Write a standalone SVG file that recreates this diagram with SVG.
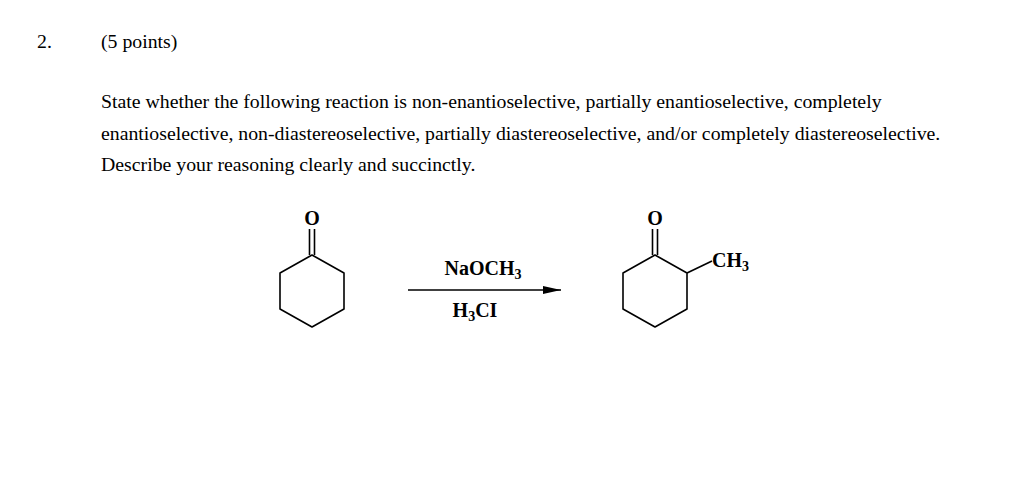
<svg xmlns="http://www.w3.org/2000/svg" width="1024" height="492" viewBox="0 0 1024 492">
<style>
.t{font-family:"Liberation Serif",serif;font-size:19.8px;fill:#000}
.b{font-family:"Liberation Serif",serif;font-size:20px;font-weight:bold;fill:#000}
.s{font-size:14px}
.bond{stroke:#000;stroke-width:1.6;fill:none;stroke-linejoin:round}
</style>
<defs><marker id="ah" markerWidth="18" markerHeight="8" refX="18" refY="4" orient="auto" markerUnits="userSpaceOnUse"><path d="M0,0 L18,4 L0,8 Z" fill="#000"/></marker></defs>
<rect width="1024" height="492" fill="#fff"/>
<g id="header">
<text class="t" x="37" y="48">2.</text>
<text class="t" x="101" y="48">(5 points)</text>
<text class="t" x="101" y="108">State whether the following reaction is non-enantioselective, partially enantioselective, completely</text>
<text class="t" x="101" y="140">enantioselective, non-diastereoselective, partially diastereoselective, and/or completely diastereoselective.</text>
<text class="t" x="101" y="171">Describe your reasoning clearly and succinctly.</text>
</g>
<g id="reactant">
<path class="bond" d="M312,255 L280,273 L280,309 L312,327 L344,309 L344,273 Z"/>
<path class="bond" d="M309.5,255 L309.5,229 M314.5,255 L314.5,229"/>
<text class="b" x="312" y="225" text-anchor="middle">O</text>
</g>
<g id="product">
<path class="bond" d="M655,255 L623,273 L623,309 L655,327 L687,309 L687,273 Z"/>
<path class="bond" d="M652.5,255 L652.5,229 M657.5,255 L657.5,229"/>
<path class="bond" d="M687,273 L712,261"/>
<text class="b" x="712" y="267">CH<tspan class="s" dy="4">3</tspan></text>
<text class="b" x="655" y="225" text-anchor="middle">O</text>
</g>
<g id="connectors">
<line x1="408" y1="290" x2="561" y2="290" stroke="#000" stroke-width="1.6" marker-end="url(#ah)"/>
<text class="b" x="483" y="275" text-anchor="middle">NaOCH<tspan class="s" dy="4">3</tspan></text>
<text class="b" x="475" y="317" text-anchor="middle">H<tspan class="s" dy="4">3</tspan><tspan dy="-4">CI</tspan></text>
</g>
</svg>
